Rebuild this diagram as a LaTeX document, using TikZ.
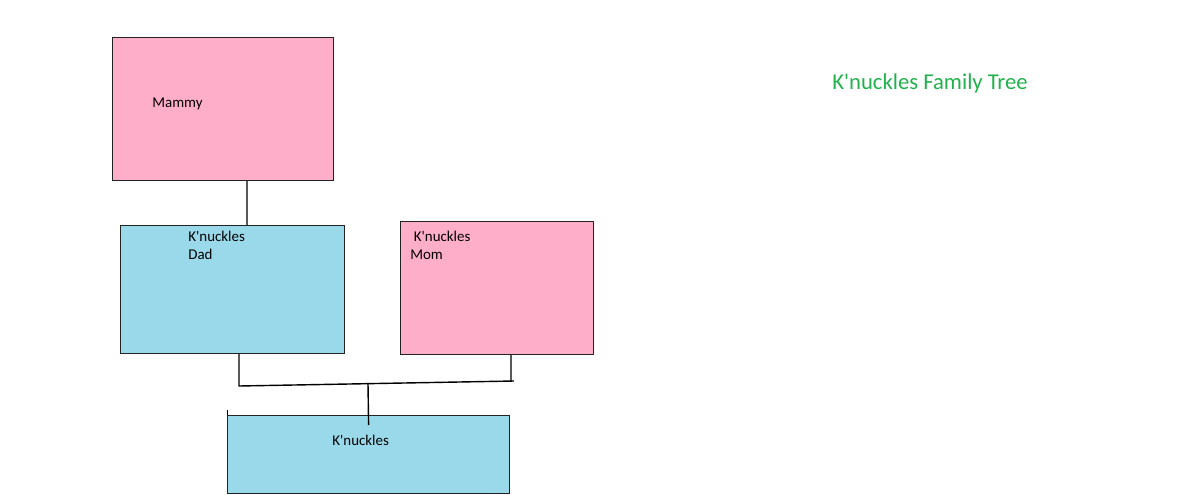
\documentclass[tikz,border=0pt]{standalone}
\usepackage{fontspec}
\setmainfont{Carlito}
\definecolor{boxpink}{RGB}{255,174,201}
\definecolor{boxblue}{RGB}{153,217,234}
\definecolor{titlegreen}{RGB}{34,177,76}
\definecolor{edge}{RGB}{35,35,35}
\newcommand{\knuck}{K\textquotesingle nuckles}

\begin{document}
\begin{tikzpicture}[x=0.02cm, y=-0.02cm,
  member/.style={draw=edge, line width=0.7pt, inner sep=0pt, anchor=north west},
  membertxt/.style={anchor=west, inner sep=0pt, align=left, font=\fontsize{8.5}{10.2}\selectfont},
  link/.style={draw=black, line width=0.8pt}]
\useasboundingbox (0,0) rectangle (1200,494);

% Grandparent
\node[member, fill=boxpink, minimum width=4.42cm, minimum height=2.86cm] (mammy) at (112,37) {};
\node[membertxt] (mammytxt) at (152,104) {Mammy};

% Parents
\node[member, fill=boxblue, minimum width=4.48cm, minimum height=2.56cm] (dad) at (120,225) {};
\node[membertxt] (dadtxt) at (188,245) {\knuck\\Dad};

\node[member, fill=boxpink, minimum width=3.86cm, minimum height=2.66cm] (mom) at (400,221) {};
\node[membertxt] (momtxt) at (410,245) {\hspace{2pt}\knuck\\Mom};

% Child
\node[member, fill=boxblue, minimum width=5.64cm, minimum height=1.56cm] (kid) at (227,415) {};
\node[membertxt] (kidtxt) at (332,440.5) {\knuck};

% Title
\node[anchor=west, inner sep=0pt, text=titlegreen, font=\fontsize{12.9}{15}\selectfont] (title) at (832,83) {\knuck{} Family Tree};

% Lines
\coordinate (jl) at (239,386);
\coordinate (jr) at (514,381);
\coordinate (jm) at (368,383.5);
\draw[link] ([xshift=2.7cm]mammy.south west) -- ([xshift=2.54cm]dad.north west);
\draw[link] ([xshift=2.38cm]dad.south west) -- (jl) -- (jr);
\draw[link] ([xshift=2.22cm]mom.south west) -- (511,381);
\draw[link] (jm) -- ([yshift=-0.2cm]kid.north);
\draw[link, line width=0.5pt] (kid.north west) -- ++(0,-5);

\end{tikzpicture}
\end{document}
